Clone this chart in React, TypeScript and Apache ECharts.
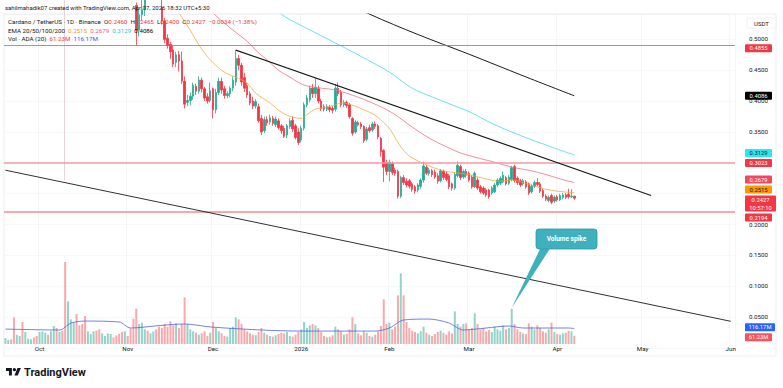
import React, { useEffect, useRef } from "react";
import * as echarts from "echarts";

const FONT = 'Roboto, "Noto Sans", sans-serif';
const START_UTC = Date.UTC(2025, 8, 19);
const DAY_COUNT = 257;
const MONTH_TICK_LABELS = ["2026", "Feb", "Mar", "Apr", "May", "Jun", "Jul", "Aug", "Sep", "Oct", "Nov", "Dec"];
const HEADER = "sahilmahadik07 created with TradingView.com, Apr 07, 2026 18:32 UTC+5:30";
const SYMBOL_TITLE = "Cardano / TetherUS \u00b7 1D \u00b7 Binance";
const EMA_TITLE = "EMA 20/50/100/200";
const VOL_TITLE = "Vol \u00b7 ADA (20)";
const COUNTDOWN = "10:57:10";
const CALLOUT_TEXT = "Volume spike";
// price-scale ticks that sit fully under the coloured value tags
const COVERED_TICKS: number[] = [0.3, 0.25];

// [open, close, low, high] per day from 2025-09-19
const candles: number[][] = [
  [0.870, 0.880, 0.860, 0.895], [0.880, 0.885, 0.870, 0.895], [0.885, 0.860, 0.850, 0.890], [0.860, 0.800, 0.780, 0.865],
  [0.800, 0.805, 0.790, 0.820], [0.805, 0.810, 0.790, 0.830], [0.810, 0.770, 0.755, 0.815], [0.770, 0.790, 0.765, 0.800],
  [0.790, 0.790, 0.780, 0.800], [0.790, 0.810, 0.785, 0.815], [0.810, 0.805, 0.795, 0.825], [0.805, 0.785, 0.770, 0.810],
  [0.785, 0.830, 0.780, 0.840], [0.830, 0.845, 0.825, 0.860], [0.845, 0.850, 0.830, 0.870], [0.850, 0.830, 0.820, 0.855],
  [0.830, 0.850, 0.825, 0.870], [0.850, 0.870, 0.845, 0.880], [0.870, 0.810, 0.800, 0.875], [0.810, 0.820, 0.800, 0.830],
  [0.820, 0.790, 0.775, 0.825], [0.790, 0.630, 0.272, 0.800], [0.630, 0.670, 0.600, 0.690], [0.670, 0.720, 0.640, 0.730],
  [0.720, 0.720, 0.700, 0.740], [0.720, 0.695, 0.660, 0.730], [0.695, 0.665, 0.655, 0.710], [0.665, 0.640, 0.630, 0.680],
  [0.640, 0.625, 0.590, 0.650], [0.625, 0.645, 0.620, 0.650], [0.645, 0.650, 0.630, 0.660], [0.650, 0.660, 0.640, 0.680],
  [0.660, 0.630, 0.620, 0.690], [0.630, 0.620, 0.605, 0.645], [0.620, 0.640, 0.615, 0.650], [0.640, 0.655, 0.635, 0.665],
  [0.655, 0.660, 0.645, 0.665], [0.660, 0.675, 0.650, 0.680], [0.675, 0.660, 0.655, 0.690], [0.660, 0.635, 0.630, 0.670],
  [0.635, 0.620, 0.610, 0.650], [0.620, 0.600, 0.590, 0.630], [0.600, 0.610, 0.595, 0.620], [0.610, 0.605, 0.598, 0.615],
  [0.605, 0.585, 0.575, 0.612], [0.585, 0.555, 0.545, 0.590], [0.555, 0.515, 0.491, 0.560], [0.515, 0.540, 0.505, 0.550],
  [0.540, 0.548, 0.530, 0.565], [0.548, 0.575, 0.538, 0.585], [0.575, 0.570, 0.560, 0.585], [0.570, 0.585, 0.565, 0.590],
  [0.585, 0.592, 0.575, 0.605], [0.592, 0.575, 0.568, 0.600], [0.575, 0.552, 0.546, 0.590], [0.552, 0.530, 0.524, 0.565],
  [0.530, 0.500, 0.494, 0.535], [0.502, 0.490, 0.485, 0.508], [0.492, 0.480, 0.468, 0.496], [0.483, 0.460, 0.455, 0.490],
  [0.463, 0.475, 0.455, 0.480], [0.475, 0.465, 0.448, 0.481], [0.465, 0.432, 0.428, 0.480], [0.432, 0.395, 0.388, 0.440],
  [0.398, 0.401, 0.392, 0.410], [0.401, 0.408, 0.393, 0.414], [0.408, 0.426, 0.402, 0.430], [0.424, 0.416, 0.410, 0.428],
  [0.416, 0.434, 0.412, 0.440], [0.434, 0.420, 0.414, 0.438], [0.420, 0.405, 0.400, 0.423], [0.407, 0.400, 0.396, 0.413],
  [0.401, 0.417, 0.398, 0.430], [0.420, 0.386, 0.372, 0.422], [0.386, 0.414, 0.380, 0.420], [0.414, 0.432, 0.410, 0.438],
  [0.432, 0.418, 0.412, 0.438], [0.420, 0.409, 0.404, 0.425], [0.409, 0.412, 0.405, 0.416], [0.412, 0.421, 0.406, 0.424],
  [0.421, 0.434, 0.416, 0.440], [0.431, 0.469, 0.425, 0.483], [0.469, 0.458, 0.450, 0.475], [0.458, 0.431, 0.425, 0.462],
  [0.438, 0.421, 0.415, 0.446], [0.425, 0.410, 0.405, 0.430], [0.412, 0.397, 0.393, 0.416], [0.400, 0.392, 0.387, 0.407],
  [0.392, 0.399, 0.388, 0.403], [0.391, 0.368, 0.365, 0.396], [0.372, 0.350, 0.345, 0.378], [0.352, 0.370, 0.348, 0.375],
  [0.370, 0.365, 0.360, 0.375], [0.366, 0.373, 0.362, 0.378], [0.372, 0.364, 0.360, 0.376], [0.362, 0.371, 0.358, 0.375],
  [0.368, 0.357, 0.354, 0.372], [0.360, 0.352, 0.347, 0.363], [0.356, 0.343, 0.340, 0.360], [0.345, 0.360, 0.340, 0.363],
  [0.359, 0.368, 0.355, 0.372], [0.369, 0.355, 0.350, 0.375], [0.360, 0.341, 0.338, 0.363], [0.350, 0.333, 0.329, 0.356],
  [0.337, 0.356, 0.333, 0.360], [0.356, 0.394, 0.352, 0.398], [0.394, 0.405, 0.390, 0.410], [0.402, 0.421, 0.398, 0.425],
  [0.421, 0.412, 0.405, 0.428], [0.412, 0.422, 0.405, 0.437], [0.420, 0.400, 0.396, 0.425], [0.400, 0.388, 0.384, 0.404],
  [0.391, 0.387, 0.383, 0.395], [0.387, 0.391, 0.384, 0.395], [0.390, 0.386, 0.382, 0.394], [0.388, 0.385, 0.380, 0.392],
  [0.387, 0.421, 0.383, 0.428], [0.421, 0.412, 0.408, 0.430], [0.414, 0.394, 0.390, 0.418], [0.394, 0.398, 0.390, 0.402],
  [0.398, 0.393, 0.389, 0.401], [0.394, 0.375, 0.372, 0.397], [0.372, 0.348, 0.344, 0.374], [0.350, 0.366, 0.347, 0.369],
  [0.365, 0.362, 0.359, 0.368], [0.363, 0.359, 0.355, 0.366], [0.359, 0.336, 0.332, 0.361], [0.338, 0.355, 0.335, 0.358],
  [0.357, 0.352, 0.349, 0.362], [0.353, 0.363, 0.350, 0.366], [0.363, 0.359, 0.355, 0.367], [0.360, 0.342, 0.338, 0.363],
  [0.340, 0.318, 0.310, 0.342], [0.320, 0.293, 0.269, 0.322], [0.300, 0.286, 0.280, 0.305], [0.286, 0.301, 0.270, 0.305],
  [0.299, 0.284, 0.280, 0.302], [0.288, 0.283, 0.279, 0.292], [0.286, 0.246, 0.242, 0.289], [0.246, 0.276, 0.243, 0.279],
  [0.276, 0.268, 0.264, 0.280], [0.270, 0.264, 0.260, 0.275], [0.271, 0.262, 0.258, 0.274], [0.266, 0.257, 0.253, 0.269],
  [0.261, 0.254, 0.250, 0.264], [0.256, 0.264, 0.252, 0.267], [0.262, 0.272, 0.258, 0.275], [0.272, 0.295, 0.268, 0.302],
  [0.293, 0.283, 0.280, 0.297], [0.283, 0.288, 0.279, 0.292], [0.287, 0.281, 0.277, 0.290], [0.285, 0.277, 0.274, 0.289],
  [0.279, 0.270, 0.266, 0.283], [0.271, 0.287, 0.268, 0.290], [0.286, 0.276, 0.272, 0.289], [0.282, 0.273, 0.270, 0.286],
  [0.279, 0.261, 0.257, 0.282], [0.266, 0.259, 0.255, 0.268], [0.259, 0.281, 0.256, 0.284], [0.279, 0.296, 0.276, 0.302],
  [0.294, 0.276, 0.272, 0.297], [0.277, 0.286, 0.274, 0.289], [0.286, 0.280, 0.276, 0.290], [0.283, 0.272, 0.269, 0.286],
  [0.277, 0.261, 0.258, 0.280], [0.261, 0.283, 0.259, 0.286], [0.272, 0.259, 0.256, 0.276], [0.261, 0.253, 0.250, 0.264],
  [0.259, 0.251, 0.248, 0.262], [0.256, 0.248, 0.245, 0.259], [0.256, 0.245, 0.242, 0.258], [0.251, 0.259, 0.248, 0.262],
  [0.253, 0.264, 0.251, 0.267], [0.264, 0.272, 0.261, 0.275], [0.267, 0.275, 0.264, 0.278], [0.269, 0.280, 0.267, 0.286],
  [0.276, 0.266, 0.263, 0.279], [0.267, 0.277, 0.264, 0.280], [0.273, 0.292, 0.270, 0.295], [0.294, 0.271, 0.268, 0.297],
  [0.275, 0.268, 0.264, 0.278], [0.271, 0.264, 0.261, 0.274], [0.266, 0.271, 0.263, 0.274], [0.269, 0.261, 0.258, 0.272],
  [0.266, 0.251, 0.248, 0.268], [0.253, 0.262, 0.250, 0.265], [0.262, 0.268, 0.259, 0.271], [0.268, 0.265, 0.262, 0.275],
  [0.266, 0.254, 0.251, 0.269], [0.255, 0.246, 0.243, 0.258], [0.246, 0.241, 0.238, 0.249], [0.239, 0.244, 0.236, 0.247],
  [0.247, 0.236, 0.233, 0.250], [0.238, 0.244, 0.235, 0.247], [0.245, 0.240, 0.237, 0.248], [0.240, 0.247, 0.238, 0.250],
  [0.244, 0.248, 0.241, 0.251], [0.248, 0.244, 0.241, 0.251], [0.249, 0.245, 0.242, 0.258], [0.245, 0.2461, 0.243, 0.257],
  [0.2460, 0.2427, 0.2400, 0.2465],
];

// volume, millions of ADA
const volumes: number[] = [
  45, 30, 35, 200, 70, 60, 165, 90, 40, 35,
  50, 60, 90, 95, 85, 70, 95, 135, 120, 90,
  100, 615, 320, 185, 160, 225, 140, 150, 210, 95,
  75, 95, 100, 110, 80, 60, 80, 75, 50, 65,
  75, 90, 95, 60, 115, 190, 265, 150, 160, 110,
  100, 80, 95, 110, 130, 120, 150, 130, 170, 140,
  155, 120, 150, 350, 150, 110, 95, 85, 70, 80,
  95, 60, 85, 165, 120, 95, 80, 60, 55, 120,
  130, 200, 185, 150, 110, 95, 80, 70, 65, 90,
  120, 85, 70, 60, 55, 65, 75, 85, 80, 90,
  60, 55, 70, 90, 110, 165, 120, 140, 150, 140,
  120, 90, 60, 50, 55, 65, 130, 110, 95, 70,
  75, 110, 200, 150, 80, 65, 95, 85, 60, 55,
  70, 95, 135, 335, 150, 160, 110, 130, 365, 530,
  365, 165, 120, 100, 90, 80, 95, 130, 85, 70,
  60, 75, 90, 100, 85, 70, 95, 80, 245, 150,
  130, 150, 155, 110, 120, 230, 150, 110, 120, 95,
  105, 90, 130, 110, 100, 140, 110, 120, 265, 150,
  110, 90, 80, 75, 155, 130, 110, 140, 120, 95,
  85, 110, 160, 90, 75, 70, 80, 85, 100, 95,
  61.23,
];

// indicator readings [dayIndex, value]
const ema20Pts: number[][] = [[55, 0.585], [61, 0.543], [65, 0.515], [68, 0.491], [72, 0.467], [76, 0.450], [79, 0.442], [81, 0.439], [85, 0.429], [88, 0.413], [93, 0.397], [97, 0.382], [101, 0.374], [104, 0.372], [106, 0.378], [109, 0.387], [113, 0.390], [116, 0.394], [118, 0.397], [121, 0.395], [125, 0.388], [130, 0.377], [133, 0.365], [135, 0.356], [139, 0.326], [142, 0.311], [146, 0.301], [150, 0.293], [155, 0.286], [160, 0.283], [163, 0.281], [168, 0.275], [174, 0.270], [178, 0.272], [184, 0.265], [190, 0.257], [196, 0.253], [200, 0.2515]];
const ema50Pts: number[][] = [[65, 0.585], [73, 0.543], [80, 0.515], [85, 0.497], [89, 0.478], [92, 0.467], [96, 0.450], [100, 0.439], [105, 0.426], [111, 0.421], [116, 0.418], [123, 0.408], [129, 0.397], [136, 0.381], [143, 0.358], [149, 0.340], [155, 0.326], [160, 0.316], [166, 0.308], [172, 0.301], [178, 0.293], [184, 0.288], [190, 0.281], [195, 0.274], [200, 0.2679]];
const ema100Pts: number[][] = [[90, 0.575], [97, 0.541], [103, 0.525], [114, 0.499], [124, 0.475], [135, 0.447], [143, 0.421], [151, 0.405], [157, 0.394], [163, 0.383], [171, 0.364], [178, 0.350], [184, 0.339], [190, 0.329], [196, 0.319], [200, 0.3129]];
const ema200Pts: number[][] = [[120, 0.560], [128, 0.541], [145, 0.508], [163, 0.476], [182, 0.441], [200, 0.4086]];
const volMaPts: number[][] = [[0, 112], [19, 105], [23, 157], [28, 172], [40, 165], [44, 120], [55, 140], [63, 150], [72, 128], [90, 105], [104, 97], [130, 97], [135, 120], [140, 180], [149, 187], [156, 157], [161, 105], [169, 120], [177, 135], [182, 120], [198, 120], [200, 116.17]];

const levelValues: number[] = [0.4855, 0.3023, 0.2194];
const upperTrend: number[][] = [[81, 0.4828], [227, 0.247]];
const lowerTrend: number[][] = [[0, 0.288], [255, 0.0431]];
const spikeIndex = 178;
const faintWickIndex = 21;

const UP = "#22ab94";
const DOWN = "#f23645";
const VOL_UP = "#93d3c9";
const VOL_DOWN = "#f8a9ac";
const EMA_COLORS = ["#f7a531", "#ee6a7e", "#3ad8e8", "#000000"];
const INK = "#131722";

const TV_LOGO = "M14 22H7V11H0V4h14v18ZM28 22h-8l7.5-18h8L28 22ZM16 8a4 4 0 1 0 8 0a4 4 0 1 0 -8 0Z";
echarts.graphic.registerShape("tvlogo", echarts.graphic.extendPath(TV_LOGO, {}));

const cats: string[] = [];
for (let i = 0; i < DAY_COUNT; i++) cats.push(new Date(START_UTC + i * 86400000).toISOString().slice(0, 10));
const isMonthStart = (i: number) => cats[i] !== undefined && cats[i].endsWith("-01");
const monthLabel = (v: string) => MONTH_TICK_LABELS[parseInt(v.slice(5, 7), 10) - 1];

function sparse(pts: number[][]) {
  const arr: (number | null)[] = new Array(DAY_COUNT).fill(null);
  pts.forEach(([i, v]) => (arr[i] = v));
  return arr;
}

function lastOf(pts: number[][]) {
  return pts[pts.length - 1][1];
}

function buildOption() {
  const volData = volumes.map((v, i) => ({
    value: v,
    itemStyle: { color: candles[i][1] >= candles[i][0] ? VOL_UP : VOL_DOWN },
  }));
  const candleData = candles.map((c, i) =>
    i === faintWickIndex
      ? { value: c, itemStyle: { borderColor0: "#d7a9ae", color0: "#d7a9ae", borderWidth: 0.5 } }
      : c
  );
  const emaSeries = [ema20Pts, ema50Pts, ema100Pts, ema200Pts].map((pts, k) => ({
    type: "line",
    xAxisIndex: 0,
    yAxisIndex: 0,
    data: sparse(pts),
    connectNulls: true,
    smooth: 0.35,
    showSymbol: false,
    silent: true,
    z: 4,
    lineStyle: { color: EMA_COLORS[k], width: k === 3 ? 0.9 : 0.75 },
  }));
  const levelStyles = [
    { color: "#f0505e", width: 0.8, type: "solid" },
    { color: "#f49aa3", width: 1.6, type: "solid" },
    { color: "#f5a8ae", width: 2, type: "solid" },
  ];
  return {
    animation: false,
    backgroundColor: "#ffffff",
    grid: [
      { left: 4, right: 48, top: 14, bottom: 40.1 },
      { left: 4, right: 48, top: 244, bottom: 44 },
    ],
    xAxis: [
      {
        type: "category", gridIndex: 0, data: cats,
        axisLine: { show: false }, axisTick: { show: false }, axisLabel: { show: false },
        splitLine: { show: true, interval: (i: number) => isMonthStart(i), lineStyle: { color: "#eef0f4", width: 0.6 } },
      },
      {
        type: "category", gridIndex: 1, data: cats,
        axisLine: { show: false }, axisTick: { show: false }, splitLine: { show: false },
        axisLabel: { interval: (i: number) => isMonthStart(i), formatter: monthLabel, fontSize: 6.2, color: INK, margin: 2, fontFamily: FONT },
      },
    ],
    yAxis: [
      {
        type: "value", gridIndex: 0, position: "right", min: 0, max: 0.5412, interval: 0.05,
        axisLine: { show: false }, axisTick: { show: false },
        axisLabel: {
          formatter: (v: number) => (COVERED_TICKS.some((c) => Math.abs(c - v) < 1e-6) ? "" : v.toFixed(4)),
          fontSize: 6.2, color: INK, margin: 14, showMinLabel: false, showMaxLabel: false, fontFamily: FONT,
        },
        splitLine: { lineStyle: { color: "#f1f3f6", width: 0.6 } },
      },
      { type: "value", gridIndex: 1, min: 0, max: 750, show: false },
    ],
    series: [
      {
        type: "candlestick",
        xAxisIndex: 0,
        yAxisIndex: 0,
        data: candleData,
        barWidth: 2,
        z: 3,
        itemStyle: { color: UP, color0: DOWN, borderColor: UP, borderColor0: DOWN, borderWidth: 0.8 },
        markLine: {
          silent: true,
          symbol: ["none", "none"],
          label: { show: false },
          lineStyle: { type: "solid" },
          data: [
            ...levelValues.map((v, k) => ({ yAxis: v, lineStyle: levelStyles[k] })),
            [
              { coord: [cats[upperTrend[0][0]], upperTrend[0][1]], lineStyle: { color: "#1a1a1a", width: 1.3, type: "solid" } },
              { coord: [cats[upperTrend[1][0]], upperTrend[1][1]] },
            ],
            [
              { coord: [cats[lowerTrend[0][0]], lowerTrend[0][1]], lineStyle: { color: "#1a1a1a", width: 0.9, type: "solid" } },
              { coord: [cats[lowerTrend[1][0]], lowerTrend[1][1]] },
            ],
          ],
        },
      },
      ...emaSeries,
      {
        type: "bar",
        xAxisIndex: 1,
        yAxisIndex: 1,
        data: volData,
        barWidth: 2,
        silent: true,
        z: 1,
      },
      {
        type: "line",
        xAxisIndex: 1,
        yAxisIndex: 1,
        data: sparse(volMaPts),
        connectNulls: true,
        smooth: 0.3,
        showSymbol: false,
        silent: true,
        z: 2,
        lineStyle: { color: "#4c63e6", width: 0.8 },
      },
    ],
  };
}

type Tag = { y: number; h: number; w: number; lines: string[]; bg: string; fg: string };

function relax(tags: Tag[], gap: number) {
  tags.sort((a, b) => a.y - b.y);
  for (let it = 0; it < 60; it++) {
    let moved = false;
    for (let k = 0; k < tags.length - 1; k++) {
      const a = tags[k], b = tags[k + 1];
      const need = a.h / 2 + b.h / 2 + gap;
      const d = b.y - a.y;
      if (d < need - 0.01) {
        const s = (need - d) / 2;
        a.y -= s;
        b.y += s;
        moved = true;
      }
    }
    if (!moved) break;
  }
}

function txt(x: number, y: number, text: string, extra: any = {}, z = 20) {
  return {
    type: "text", x, y, z, silent: true,
    style: {
      text, fontSize: 6.2, fontFamily: FONT, fill: INK,
      align: "left", textAlign: "left", verticalAlign: "middle", textVerticalAlign: "middle",
      ...extra,
    },
  };
}

function buildGraphics(chart: any) {
  const g: any[] = [];
  const py = (v: number) => chart.convertToPixel({ yAxisIndex: 0 }, v) as number;
  const vy = (v: number) => chart.convertToPixel({ yAxisIndex: 1 }, v) as number;

  g.push({ type: "rect", z: 0, silent: true, shape: { x: 4, y: 14, width: 772, height: 342 }, style: { fill: "none", stroke: "#e0e3eb", lineWidth: 0.6 } });
  g.push({ type: "rect", z: 0, silent: true, shape: { x: 747, y: 18, width: 29, height: 10 }, style: { fill: "#fff", stroke: "#e0e3eb", lineWidth: 0.5 } });
  g.push(txt(761.5, 23, "USDT", { align: "center", textAlign: "center", fontSize: 6 }));

  g.push(txt(5, 7, HEADER, { fontSize: 6 }));

  const last = candles[candles.length - 1];
  const prevClose = candles[candles.length - 2][1];
  const chg = last[1] - prevClose;
  const pct = (chg / prevClose) * 100;
  const m = (v: number) => (v < 0 ? "\u2212" : "") + Math.abs(v).toFixed(4);
  const rich = {
    t: { fill: INK, color: INK, fontSize: 6.2, fontFamily: FONT },
    r: { fill: DOWN, color: DOWN, fontSize: 6.2, fontFamily: FONT },
    e0: { fill: "#f59c1a", color: "#f59c1a", fontSize: 6.2, fontFamily: FONT },
    e1: { fill: "#ec5a70", color: "#ec5a70", fontSize: 6.2, fontFamily: FONT },
    e2: { fill: "#1fc6d6", color: "#1fc6d6", fontSize: 6.2, fontFamily: FONT },
    e3: { fill: "#000", color: "#000", fontSize: 6.2, fontFamily: FONT },
    b: { fill: "#2962ff", color: "#2962ff", fontSize: 6.2, fontFamily: FONT },
  };
  const line1 = `{t|${SYMBOL_TITLE}}  {t|O}{r|${last[0].toFixed(4)}}  {t|H}{r|${last[3].toFixed(4)}}  {t|L}{r|${last[2].toFixed(4)}}  {t|C}{r|${last[1].toFixed(4)}}  {r|${m(chg)} (${pct < 0 ? "\u2212" : ""}${Math.abs(pct).toFixed(2)}%)}`;
  const emaLast = [ema20Pts, ema50Pts, ema100Pts, ema200Pts].map(lastOf);
  const line2 = `{t|${EMA_TITLE}}  {e0|${emaLast[0].toFixed(4)}}  {e1|${emaLast[1].toFixed(4)}}  {e2|${emaLast[2].toFixed(4)}}  {e3|${emaLast[3].toFixed(4)}}`;
  const volLast = volumes[volumes.length - 1];
  const volMaLast = lastOf(volMaPts);
  const line3 = `{t|${VOL_TITLE}}  {r|${volLast.toFixed(2)}M}  {b|${volMaLast.toFixed(2)}M}`;
  g.push(txt(8, 22, line1, { rich }));
  g.push(txt(8, 30.7, line2, { rich }));
  g.push(txt(8, 39.3, line3, { rich }));

  // price tags on the right scale
  const tags: Tag[] = [];
  const mk = (v: number, bg: string, fg: string, sub?: string): Tag => {
    const lines = sub ? [v.toFixed(4), sub] : [v.toFixed(4)];
    const h = sub ? 16 : 8;
    return { y: py(v) + (sub ? 4 : 0), h, w: sub ? 31 : 27, lines, bg, fg };
  };
  tags.push(mk(levelValues[0], DOWN, "#fff"));
  tags.push(mk(emaLast[3], "#000000", "#fff"));
  tags.push(mk(emaLast[2], "#2ee6f0", INK));
  tags.push(mk(levelValues[1], DOWN, "#fff"));
  tags.push(mk(emaLast[1], "#f04a60", "#fff"));
  tags.push(mk(emaLast[0], "#ff9800", INK));
  tags.push(mk(last[1], DOWN, "#fff", COUNTDOWN));
  tags.push(mk(levelValues[2], DOWN, "#fff"));
  relax(tags, 2);

  const vtags: Tag[] = [
    { y: vy(volMaLast), h: 8, w: 30, lines: [volMaLast.toFixed(2) + "M"], bg: "#2962ff", fg: "#fff" },
    { y: vy(volLast), h: 8, w: 27, lines: [volLast.toFixed(2) + "M"], bg: "#f7525f", fg: "#fff" },
  ];
  relax(vtags, 2);

  [...tags, ...vtags].forEach((t) => {
    const top = t.y - t.h / 2;
    g.push({ type: "rect", z: 30, silent: true, shape: { x: 745, y: top, width: t.w, height: t.h, r: 1 }, style: { fill: t.bg } });
    t.lines.forEach((s, k) => {
      g.push(txt(745 + t.w / 2, top + 4 + k * 8, s, { fill: t.fg, align: "center", textAlign: "center", fontSize: 5.8 }, 31));
    });
  });

  // callout
  const tip = chart.convertToPixel({ gridIndex: 1 }, [cats[spikeIndex], volumes[spikeIndex]]) as number[];
  g.push({ type: "polygon", z: 25, silent: true, shape: { points: [[541, 247], [551, 247], [tip[0], tip[1] - 1]] }, style: { fill: "#3fb0be" } });
  g.push({ type: "rect", z: 26, silent: true, shape: { x: 536, y: 229, width: 61, height: 20, r: 3 }, style: { fill: "#3fb0be", stroke: "#2d98a6", lineWidth: 0.8 } });
  g.push(txt(566.5, 239, CALLOUT_TEXT, { fill: "#fff", align: "center", textAlign: "center", fontSize: 6.5, fontWeight: "bold" }, 27));

  // footer logo
  g.push({ type: "tvlogo", z: 20, silent: true, x: 6, y: 366.3, scaleX: 0.42, scaleY: 0.42, style: { fill: INK } });
  g.push(txt(24, 372.5, "TradingView", { fontSize: 11, fontWeight: "bold", fill: INK }));

  return g;
}

export default function App() {
  const ref = useRef<HTMLDivElement>(null);
  useEffect(() => {
    if (!ref.current) return;
    const chart = echarts.init(ref.current, undefined, { renderer: "svg" });
    chart.setOption(buildOption() as any);
    chart.setOption({ graphic: buildGraphics(chart) } as any);
    return () => chart.dispose();
  }, []);
  return <div ref={ref} style={{ position: "fixed", left: 0, top: 0, width: 783, height: 388, background: "#fff" }} />;
}
